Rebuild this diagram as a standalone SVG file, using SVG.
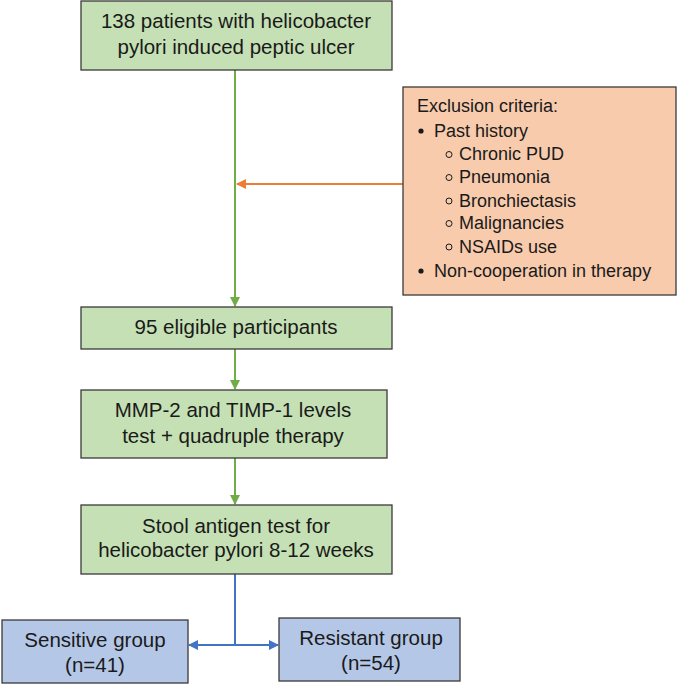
<svg xmlns="http://www.w3.org/2000/svg" width="679" height="685" viewBox="0 0 679 685">
<style>
text{font-family:"Liberation Sans",Arial,sans-serif;fill:#1a1a1a}
.m{font-size:20.5px;text-anchor:middle}
.e{font-size:18px}
.g{fill:#C5E0B4;stroke:#3a3a3a;stroke-width:1.3}
.o{fill:#F8CBAD;stroke:#3a3a3a;stroke-width:1.3}
.b{fill:#B4C7E7;stroke:#3a3a3a;stroke-width:1.3}
.lg{stroke:#70AD47;stroke-width:2;fill:none}
.lo{stroke:#ED7D31;stroke-width:2;fill:none}
.lb{stroke:#4472C4;stroke-width:2;fill:none}
</style>
<defs>
<marker id="ag" markerWidth="10" markerHeight="10" refX="9" refY="5" orient="auto" markerUnits="userSpaceOnUse"><path d="M0,0 L10,5 L0,10 Z" fill="#70AD47"/></marker>
<marker id="ao" markerWidth="10" markerHeight="10" refX="9" refY="5" orient="auto" markerUnits="userSpaceOnUse"><path d="M0,0 L10,5 L0,10 Z" fill="#ED7D31"/></marker>
<marker id="ab" markerWidth="10" markerHeight="10" refX="9" refY="5" orient="auto" markerUnits="userSpaceOnUse"><path d="M0,0 L10,5 L0,10 Z" fill="#4472C4"/></marker>
</defs>
<g id="connectors">
<line class="lg" x1="235" y1="70" x2="235" y2="306" marker-end="url(#ag)"/>
<line class="lo" x1="403" y1="184" x2="237" y2="184" marker-end="url(#ao)"/>
<line class="lg" x1="235" y1="349" x2="235" y2="389" marker-end="url(#ag)"/>
<line class="lg" x1="235" y1="458" x2="235" y2="504" marker-end="url(#ag)"/>
<line class="lb" x1="235" y1="574" x2="235" y2="645"/>
<line class="lb" x1="235" y1="645" x2="189" y2="645" marker-end="url(#ab)"/>
<line class="lb" x1="235" y1="645" x2="278" y2="645" marker-end="url(#ab)"/>
</g>
<g id="n1">
<rect class="g" x="81" y="1" width="311" height="69"/>
<text class="m" x="236" y="28">138 patients with helicobacter</text>
<text class="m" x="236" y="54">pylori induced peptic ulcer</text>
</g>
<g id="exclusion">
<rect class="o" x="403" y="87" width="273" height="208"/>
<text class="e" x="417" y="112">Exclusion criteria:</text>
<circle cx="421" cy="131" r="2.6" fill="#1a1a1a"/>
<text class="e" x="434" y="137">Past history</text>
<g fill="none" stroke="#1a1a1a" stroke-width="1">
<circle cx="449" cy="154.5" r="3"/>
<circle cx="449" cy="177.5" r="3"/>
<circle cx="449" cy="201" r="3"/>
<circle cx="449" cy="223.5" r="3"/>
<circle cx="449" cy="247" r="3"/>
</g>
<text class="e" x="459" y="160">Chronic PUD</text>
<text class="e" x="459" y="183">Pneumonia</text>
<text class="e" x="459" y="207">Bronchiectasis</text>
<text class="e" x="459" y="229">Malignancies</text>
<text class="e" x="459" y="253">NSAIDs use</text>
<circle cx="421" cy="271" r="2.6" fill="#1a1a1a"/>
<text class="e" x="434" y="277">Non-cooperation in therapy</text>
</g>
<g id="n2">
<rect class="g" x="81" y="307" width="311" height="42"/>
<text class="m" x="236" y="334">95 eligible participants</text>
</g>
<g id="n3">
<rect class="g" x="81" y="390" width="306" height="68"/>
<text class="m" x="233" y="417">MMP-2 and TIMP-1 levels</text>
<text class="m" x="233" y="443">test + quadruple therapy</text>
</g>
<g id="n4">
<rect class="g" x="81" y="505" width="311" height="69"/>
<text class="m" x="236" y="533">Stool antigen test for</text>
<text class="m" x="236" y="557">helicobacter pylori 8-12 weeks</text>
</g>
<g id="sensitive">
<rect class="b" x="2" y="620" width="186" height="63"/>
<text class="m" x="95" y="647">Sensitive group</text>
<text class="m" x="95" y="672">(n=41)</text>
</g>
<g id="resistant">
<rect class="b" x="279" y="618" width="181" height="63"/>
<text class="m" x="371" y="645">Resistant group</text>
<text class="m" x="371" y="670">(n=54)</text>
</g>
</svg>
